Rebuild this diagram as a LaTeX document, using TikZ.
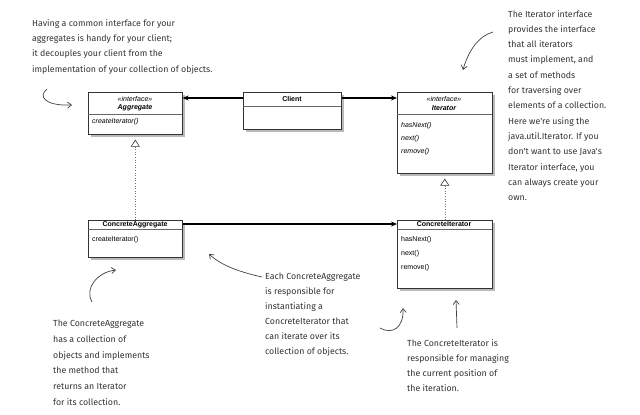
\documentclass[tikz,border=0pt]{standalone}
\usepackage{fontspec}
\setmainfont{Liberation Sans}
\newfontfamily\hand{Fira Sans}
\usetikzlibrary{shadows,arrows.meta,calc}
\begin{document}
\begin{tikzpicture}[x=1pt,y=-1pt,
 box/.style={draw=black!80,line width=0.6pt,fill=white,anchor=north west,inner sep=0,
   drop shadow={shadow xshift=2.5pt,shadow yshift=-2.5pt,fill=black!45,opacity=0.6}},
 div/.style={draw=black!60,line width=0.4pt},
 uml/.style={font=\fontsize{7}{7.5}\selectfont,inner sep=0},
 note/.style={font=\hand\fontsize{8.8}{15.4}\selectfont,align=left,anchor=north west,inner sep=0,text=black!80},
 assoc/.style={line width=1.1pt,-{Stealth[length=6pt,width=5pt]}},
 real/.style={dotted,draw=black!55,line width=0.6pt,shorten >=5pt,-{Triangle[open,length=7pt,width=9pt,line width=0.6pt,black!80]}},
 curv/.style={line width=0.7pt,black!75,-{Straight Barb[length=4pt,width=6pt]}}]
\useasboundingbox (0,0) rectangle (640,415);
% boxes
\node[box,minimum width=94,minimum height=42] (agg) at (88,92) {};
\node[box,minimum width=98,minimum height=37] (client) at (243,92) {};
\node[box,minimum width=95,minimum height=81] (it) at (397,92) {};
\node[box,minimum width=94,minimum height=37] (cagg) at (88,220) {};
\node[box,minimum width=95,minimum height=68] (cit) at (397,220) {};
% dividers
\draw[div] (88,114) -- (182,114);
\draw[div] (243,106) -- (341,106);
\draw[div] (397,114) -- (492,114);
\draw[div] (88,229) -- (182,229);
\draw[div] (397,229) -- (492,229);
% texts
\node[uml] (t1) at (135,99) {\itshape\textless\textless interface\textgreater\textgreater};
\node[uml] (t2) at (135,108) {\bfseries\itshape Aggregate};
\node[uml,anchor=west] (t3) at (92,122) {\itshape createIterator()};
\node[uml] (t4) at (292,99) {\bfseries Client};
\node[uml] (t5) at (444,99) {\itshape\textless\textless interface\textgreater\textgreater};
\node[uml] (t6) at (444,108) {\bfseries\itshape Iterator};
\node[uml,anchor=west] (t7) at (401,126) {\itshape hasNext()};
\node[uml,anchor=west] (t8) at (401,139) {\itshape next()};
\node[uml,anchor=west] (t9) at (401,152) {\itshape remove()};
\node[uml] (t10) at (135,224.5) {\bfseries ConcreteAggregate};
\node[uml,anchor=west] (t11) at (92,240) {createIterator()};
\node[uml] (t12) at (444,224.5) {\bfseries ConcreteIterator};
\node[uml,anchor=west] (t13) at (401,240) {hasNext()};
\node[uml,anchor=west] (t14) at (401,254) {next()};
\node[uml,anchor=west] (t15) at (401,268) {remove()};
% connectors
\draw[assoc] (client.north west |- 0,98) -- (agg.north east |- 0,98);
\draw[assoc] (client.north east |- 0,98) -- (it.north west |- 0,98);
\draw[assoc] (cagg.north east |- 0,224) -- (cit.north west |- 0,224);
\draw[real] (cagg.north) -- (agg.south);
\draw[real] (cit.north) -- (it.south);
% notes
\node[note] (n1) at (32,19) {Having a common interface for your\\aggregates is handy for your client;\\it decouples your client from the\\implementation of your collection of objects.};
\node[note,font=\hand\fontsize{8.8}{15.3}\selectfont] (n2) at (508,10) {The Iterator interface\\provides the interface\\that all iterators\\must implement, and\\a set of methods\\for traversing over\\elements of a collection.\\Here we're using the\\java.util.Iterator.  If you\\don't want to use Java's\\Iterator interface, you\\can always create your\\own.};
\node[note,font=\hand\fontsize{8.8}{15}\selectfont] (n3) at (265,273) {Each ConcreteAggregate\\is responsible for\\instantiating a\\ConcreteIterator that\\can iterate over its\\collection of objects.};
\node[note,font=\hand\fontsize{8.8}{15.7}\selectfont] (n4) at (53,320) {The ConcreteAggregate\\has a collection of\\objects and implements\\the method that\\returns an Iterator\\for its collection.};
\node[note,font=\hand\fontsize{8.8}{15}\selectfont] (n5) at (407,339) {The ConcreteIterator is\\responsible for managing\\the current position of\\the iteration.};
% curved arrows
\coordinate (a1s) at (47,89); \coordinate (a1e) at (72,105);
\draw[curv] (a1s) .. controls (38,96) and (44,106) .. (a1e);
\coordinate (a2s) at (493,32); \coordinate (a2e) at (463,70);
\draw[curv] (a2s) .. controls (478,36) and (468,52) .. (a2e);
\coordinate (a3s) at (262,277); \coordinate (a3e) at (209,254);
\draw[curv] (a3s) .. controls (240,272) and (222,266) .. (a3e);
\coordinate (a4s) at (92,302); \coordinate (a4e) at (116,270);
\draw[curv] (a4s) .. controls (84,288) and (98,272) .. (a4e);
\coordinate (a5s) at (380,328); \coordinate (a5e) at (403,308);
\draw[curv] (a5s) .. controls (392,335) and (404,328) .. (a5e);
\coordinate (a6s) at (457,328); \coordinate (a6e) at (456,300);
\draw[curv] (a6s) -- (a6e);
\end{tikzpicture}
\end{document}
